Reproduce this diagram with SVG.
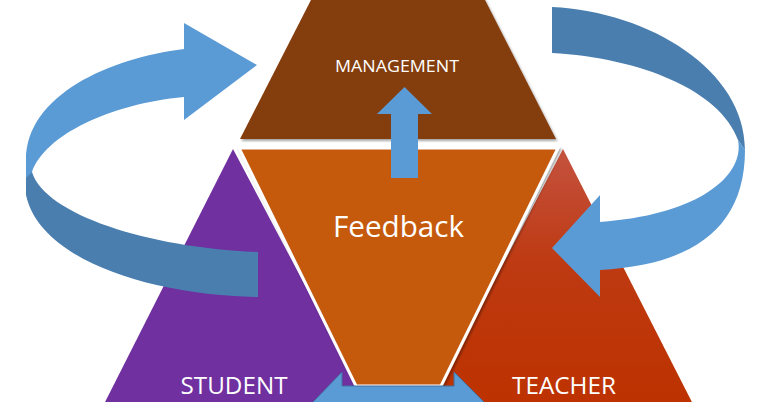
<svg xmlns="http://www.w3.org/2000/svg" width="766" height="402" viewBox="0 0 766 402">
<defs>
<linearGradient id="teacherGrad" gradientUnits="userSpaceOnUse" x1="0" y1="149" x2="0" y2="402">
<stop offset="0" stop-color="#C4523F"/>
<stop offset="0.45" stop-color="#BE3A12"/>
<stop offset="1" stop-color="#BD3200"/>
</linearGradient>
<filter id="shadow" x="-10%" y="-10%" width="120%" height="120%">
<feDropShadow dx="1.5" dy="2" stdDeviation="1.2" flood-color="#000" flood-opacity="0.35"/>
</filter>
<style>
.lbl{font-family:"Open Sans","Liberation Sans",sans-serif;fill:#FFFFFF;text-anchor:middle}
.light{fill:#5B9BD5}
.dark{fill:#4A7EAF}
</style>
</defs>
<rect width="766" height="402" fill="#FFFFFF"/>
<g id="student">
<polygon points="233,149 100,412 372,412" fill="#7030A0"/>
<text class="lbl" x="234" y="394" font-size="24" textLength="107" lengthAdjust="spacingAndGlyphs">STUDENT</text>
</g>
<g id="teacher">
<polygon points="563,149 697,412 426,412" fill="url(#teacherGrad)"/>
<text class="lbl" x="564" y="394" font-size="24" textLength="104" lengthAdjust="spacingAndGlyphs">TEACHER</text>
</g>
<g id="feedback">
<polygon points="239,148 558,148 441,386 356,386" fill="#C55A11" stroke="#FFFFFF" stroke-width="3" stroke-linejoin="miter" filter="url(#shadow)"/>
<text class="lbl" x="398.5" y="237" font-size="30" textLength="131" lengthAdjust="spacingAndGlyphs">Feedback</text>
</g>
<g id="management">
<polygon points="312,-2 484,-2 556,139 240,139" fill="#843C0C" filter="url(#shadow)"/>
<text class="lbl" x="397" y="72" font-size="17" textLength="124" lengthAdjust="spacingAndGlyphs">MANAGEMENT</text>
</g>
<g id="connectors">
<path class="dark" d="M26,165 L26,195 C40,260 150,295 258,297 L258,252 C150,248 45,215 32,172 Z"/>
<path class="light" d="M32,172 C45,135 110,104 184,97 L184,120 L257,65 L184,23 L184,49 C110,58 26,95 26,160 L26,178 Z"/>
<path class="dark" d="M552,7 C650,12 745,70 745,150 L738,140 C720,90 640,58 552,53 Z"/>
<path class="light" d="M738,140 L745,150 C745,230 690,265 600,270 L600,297 L552,248 L600,195 L600,222 C700,215 745,175 738,140 Z"/>
<polygon class="light" points="404.5,87 432,114 418,114 418,178 391,178 391,114 377,114"/>
<polygon class="light" points="313,402 342,372 342,386 454,386 454,372 486,404 310,404" stroke="#41719C" stroke-width="1"/>
</g>
</svg>
